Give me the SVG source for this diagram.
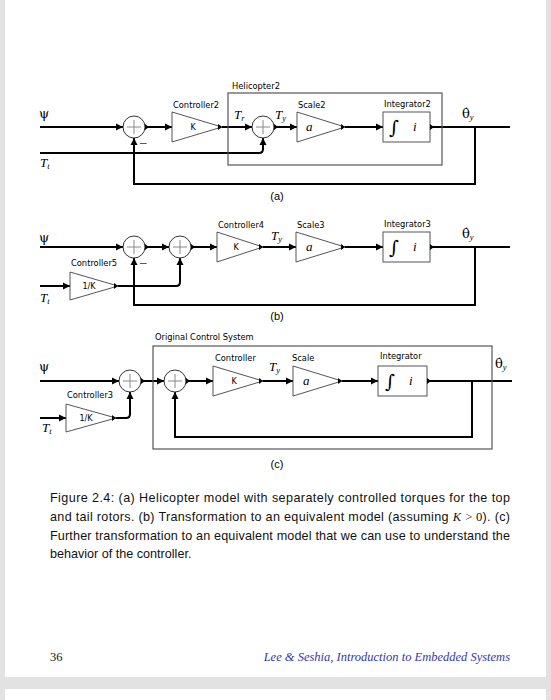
<svg xmlns="http://www.w3.org/2000/svg" width="551" height="700" viewBox="0 0 551 700">
<defs>
<marker id="arr" markerWidth="8" markerHeight="8" refX="7" refY="4" orient="auto" markerUnits="userSpaceOnUse">
<path d="M0,0.5 L7,4 L0,7.5 Z" fill="#000"/>
</marker>
<style>
.bg{fill:#e2e2e2}
.page{fill:#fff}
.ln{fill:none;stroke:#000;stroke-width:2}
.blk{fill:#fff;stroke:#555;stroke-width:1}
.sum{fill:#fff;stroke:#333;stroke-width:1}
.plus{stroke:#888;stroke-width:1}
.port{fill:#000}
.box{fill:none;stroke:#555;stroke-width:1.2}
.lbl{font-family:"DejaVu Sans","Liberation Sans",sans-serif;font-size:8.3px;fill:#000}
.k{font-family:"DejaVu Sans","Liberation Sans",sans-serif;font-size:8px;fill:#000;text-anchor:middle}
.m{font-family:"Liberation Serif",serif;font-size:13px;fill:#000}
.psi{font-family:"DejaVu Serif","Liberation Serif",serif;font-size:13px;fill:#000}
.th{font-family:"DejaVu Serif","Liberation Serif",serif;font-size:13px;fill:#000}
.mi{font-family:"Liberation Serif",serif;font-style:italic;font-size:13px;fill:#000}
.int{font-family:"DejaVu Serif","Liberation Serif",serif;font-size:19px;fill:#000}
.sub{font-family:"Liberation Serif",serif;font-style:italic;font-size:8.5px}
.sl{font-family:"Liberation Sans",sans-serif;font-size:11px;fill:#000;text-anchor:middle}
.cap{font-family:"Liberation Sans",sans-serif;font-size:12.6px;fill:#111}
.foot{font-family:"Liberation Serif",serif;font-size:12.5px;fill:#111}
.footr{font-family:"Liberation Serif",serif;font-style:italic;font-size:12.5px;fill:#3535b5;text-anchor:end}
</style>
</defs>
<rect class="bg" x="0" y="0" width="551" height="700"/>
<rect class="page" x="5" y="0" width="541" height="677"/>
<rect class="page" x="5" y="689" width="541" height="11"/>

<g id="connectors">
<!-- (a) -->
<path class="ln" d="M40,127 H123" marker-end="url(#arr)"/>
<path class="ln" d="M145,127 H172" marker-end="url(#arr)"/>
<path class="ln" d="M222,127 H252" marker-end="url(#arr)"/>
<path class="ln" d="M274,127 H297" marker-end="url(#arr)"/>
<path class="ln" d="M345,127 H383" marker-end="url(#arr)"/>
<path class="ln" d="M430,127 H510"/>
<path class="ln" d="M475,127 V184 H134 V138" marker-end="url(#arr)"/>
<path class="ln" d="M40,153 H259 Q263,153 263,149 V138" marker-end="url(#arr)"/>
<!-- (b) -->
<path class="ln" d="M40,247 H123" marker-end="url(#arr)"/>
<path class="ln" d="M145,247 H169" marker-end="url(#arr)"/>
<path class="ln" d="M191,247 H217" marker-end="url(#arr)"/>
<path class="ln" d="M263,247 H296" marker-end="url(#arr)"/>
<path class="ln" d="M345,247 H383" marker-end="url(#arr)"/>
<path class="ln" d="M430,247 H510"/>
<path class="ln" d="M475,247 V305 H134 V258" marker-end="url(#arr)"/>
<path class="ln" d="M40,286 H70" marker-end="url(#arr)"/>
<path class="ln" d="M118,286 H176 Q180,286 180,282 V258" marker-end="url(#arr)"/>
<!-- (c) -->
<path class="ln" d="M40,381 H119" marker-end="url(#arr)"/>
<path class="ln" d="M141,381 H164" marker-end="url(#arr)"/>
<path class="ln" d="M186,381 H213" marker-end="url(#arr)"/>
<path class="ln" d="M263,381 H293" marker-end="url(#arr)"/>
<path class="ln" d="M342,381 H378" marker-end="url(#arr)"/>
<path class="ln" d="M427,381 H512"/>
<path class="ln" d="M472,381 V437 H175 V392" marker-end="url(#arr)"/>
<path class="ln" d="M40,418 H66" marker-end="url(#arr)"/>
<path class="ln" d="M116,418 H126 Q130,418 130,414 V392" marker-end="url(#arr)"/>
</g>

<!-- ===== (a) ===== -->
<g id="helicopter2">
<rect class="box" x="228" y="93" width="214" height="72"/>
<text class="lbl" x="232" y="89">Helicopter2</text>
</g>
<g id="sumA1">
<circle class="sum" cx="134" cy="127" r="11"/>
<path class="plus" d="M127,127 H141 M134,120 V134"/>
<path class="port" d="M145,124 L149,127 L145,130 Z"/>
<text class="m" x="140" y="146">–</text>
</g>
<g id="controller2">
<path class="blk" d="M172,112 L222,127 L172,142 Z"/>
<path class="port" d="M218,124 L222,127 L218,130 Z"/>
<text class="lbl" x="173" y="108">Controller2</text>
<text class="k" x="193" y="130">K</text>
</g>
<g id="sumA2">
<circle class="sum" cx="263" cy="127" r="11"/>
<path class="plus" d="M256,127 H270 M263,120 V134"/>
<path class="port" d="M274,124 L278,127 L274,130 Z"/>
</g>
<g id="scale2">
<path class="blk" d="M297,112 L345,127 L297,142 Z"/>
<path class="port" d="M341,124 L345,127 L341,130 Z"/>
<text class="lbl" x="298" y="108">Scale2</text>
<text class="mi" x="306" y="131" font-size="10">a</text>
</g>
<g id="integrator2">
<rect class="blk" x="383" y="112" width="47" height="30"/>
<path class="port" d="M430,124 L434,127 L430,130 Z"/>
<text class="lbl" x="384" y="107">Integrator2</text>
<text class="int" x="389" y="134">∫</text>
<text class="mi" x="413" y="131" font-size="10">i</text>
</g>
<g id="labelsA">
<text class="psi" x="39" y="118">ψ</text>
<text class="mi" x="40" y="167">T<tspan class="sub" dy="2">t</tspan></text>
<text class="mi" x="234" y="119">T<tspan class="sub" dy="2">r</tspan></text>
<text class="mi" x="275" y="119">T<tspan class="sub" dy="2" font-style="normal">y</tspan></text>
<text class="th" x="462" y="118">θ̇<tspan class="sub" dy="2" font-style="normal">y</tspan></text>
<text class="sl" x="277" y="200">(a)</text>
</g>

<!-- ===== (b) ===== -->
<g id="sumB1">
<circle class="sum" cx="134" cy="247" r="11"/>
<path class="plus" d="M127,247 H141 M134,240 V254"/>
<path class="port" d="M145,244 L149,247 L145,250 Z"/>
<text class="m" x="140" y="266">–</text>
</g>
<g id="sumB2">
<circle class="sum" cx="180" cy="247" r="11"/>
<path class="plus" d="M173,247 H187 M180,240 V254"/>
<path class="port" d="M191,244 L195,247 L191,250 Z"/>
</g>
<g id="controller4">
<path class="blk" d="M217,232 L263,247 L217,262 Z"/>
<path class="port" d="M259,244 L263,247 L259,250 Z"/>
<text class="lbl" x="218" y="228">Controller4</text>
<text class="k" x="236" y="250">K</text>
</g>
<g id="scale3">
<path class="blk" d="M296,232 L345,247 L296,262 Z"/>
<path class="port" d="M341,244 L345,247 L341,250 Z"/>
<text class="lbl" x="297" y="228">Scale3</text>
<text class="mi" x="306" y="251" font-size="10">a</text>
</g>
<g id="integrator3">
<rect class="blk" x="383" y="232" width="47" height="30"/>
<path class="port" d="M430,244 L434,247 L430,250 Z"/>
<text class="lbl" x="384" y="227">Integrator3</text>
<text class="int" x="389" y="254">∫</text>
<text class="mi" x="413" y="251" font-size="10">i</text>
</g>
<g id="controller5">
<path class="blk" d="M70,272 L118,286 L70,300 Z"/>
<path class="port" d="M114,283 L118,286 L114,289 Z"/>
<text class="lbl" x="71" y="266">Controller5</text>
<text class="k" x="89" y="289">1/K</text>
</g>
<g id="labelsB">
<text class="psi" x="39" y="242">ψ</text>
<text class="mi" x="40" y="302">T<tspan class="sub" dy="2">t</tspan></text>
<text class="mi" x="271" y="240">T<tspan class="sub" dy="2" font-style="normal">y</tspan></text>
<text class="th" x="462" y="238">θ̇<tspan class="sub" dy="2" font-style="normal">y</tspan></text>
<text class="sl" x="277" y="320">(b)</text>
</g>

<!-- ===== (c) ===== -->
<g id="originalControlSystem">
<rect class="box" x="153" y="346" width="339" height="103"/>
<text class="lbl" x="155" y="340">Original Control System</text>
</g>
<g id="sumC1">
<circle class="sum" cx="130" cy="381" r="11"/>
<path class="plus" d="M123,381 H137 M130,374 V388"/>
<path class="port" d="M141,378 L145,381 L141,384 Z"/>
</g>
<g id="sumC2">
<circle class="sum" cx="175" cy="381" r="11"/>
<path class="plus" d="M168,381 H182 M175,374 V388"/>
<path class="port" d="M186,378 L190,381 L186,384 Z"/>
<text class="m" x="186" y="383">–</text>
</g>
<g id="controller">
<path class="blk" d="M213,366 L263,381 L213,396 Z"/>
<path class="port" d="M259,378 L263,381 L259,384 Z"/>
<text class="lbl" x="215" y="361">Controller</text>
<text class="k" x="234" y="384">K</text>
</g>
<g id="scale">
<path class="blk" d="M293,366 L342,381 L293,396 Z"/>
<path class="port" d="M338,378 L342,381 L338,384 Z"/>
<text class="lbl" x="292" y="361">Scale</text>
<text class="mi" x="303" y="385" font-size="10">a</text>
</g>
<g id="integrator">
<rect class="blk" x="378" y="366" width="49" height="30"/>
<path class="port" d="M427,378 L431,381 L427,384 Z"/>
<text class="lbl" x="380" y="359">Integrator</text>
<text class="int" x="385" y="388">∫</text>
<text class="mi" x="409" y="385" font-size="10">i</text>
</g>
<g id="controller3">
<path class="blk" d="M66,404 L116,418 L66,432 Z"/>
<path class="port" d="M112,415 L116,418 L112,421 Z"/>
<text class="lbl" x="67" y="398">Controller3</text>
<text class="k" x="86" y="421">1/K</text>
</g>
<g id="labelsC">
<text class="psi" x="39" y="371">ψ</text>
<text class="mi" x="42" y="432">T<tspan class="sub" dy="2">t</tspan></text>
<text class="mi" x="269" y="371">T<tspan class="sub" dy="2" font-style="normal">y</tspan></text>
<text class="th" x="495" y="368">θ̇<tspan class="sub" dy="2" font-style="normal">y</tspan></text>
<text class="sl" x="277" y="468">(c)</text>
</g>

<!-- caption -->
<g id="caption">
<text class="cap" x="50" y="502" textLength="460" lengthAdjust="spacing">Figure 2.4: (a) Helicopter model with separately controlled torques for the top</text>
<text class="cap" x="50" y="521" textLength="460" lengthAdjust="spacing">and tail rotors. (b) Transformation to an equivalent model (assuming <tspan font-family="Liberation Serif" font-style="italic">K</tspan> <tspan font-family="Liberation Serif">&gt; 0</tspan>). (c)</text>
<text class="cap" x="50" y="540" textLength="460" lengthAdjust="spacing">Further transformation to an equivalent model that we can use to understand the</text>
<text class="cap" x="50" y="558">behavior of the controller.</text>
</g>
<g id="footer">
<text class="foot" x="50" y="661">36</text>
<text class="footr" x="510" y="661">Lee &amp; Seshia, Introduction to Embedded Systems</text>
</g>
</svg>
